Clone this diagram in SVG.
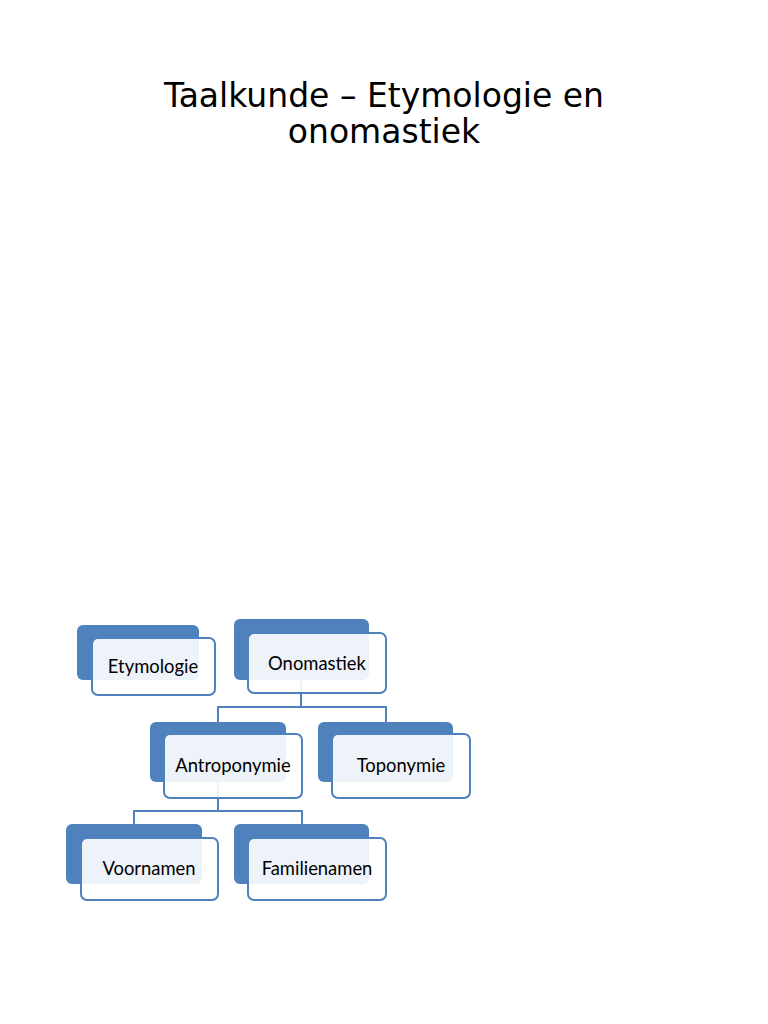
<svg xmlns="http://www.w3.org/2000/svg" width="768" height="1024" viewBox="0 0 768 1024">
<style>
.title{font-family:"DejaVu Sans",sans-serif;font-size:33px;fill:#000;text-anchor:middle}
.back{fill:#4F81BD}
.front{fill:#fff;fill-opacity:0.9;stroke:#4F81BD;stroke-width:2}
.lbl{font-family:Lato,"Liberation Sans",sans-serif;font-size:18.4px;fill:#000;text-anchor:middle}
.conn{fill:none;stroke:#4F81BD;stroke-width:2}
</style>
<rect width="768" height="1024" fill="#fff"/>
<text class="title" x="384" y="107">Taalkunde – Etymologie en</text>
<text class="title" x="384" y="143">onomastiek</text>
<g id="connectors">
<path class="conn" d="M301 680 V707 M218 722 V707 H386 V722"/>
<path class="conn" d="M218 782 V811 M134 824 V811 H302 V824"/>
</g>
<g id="etymologie">
<rect class="back" x="77" y="625" width="122" height="55" rx="6"/>
<rect class="front" x="92" y="638" width="123" height="57" rx="6"/>
<text class="lbl" x="153" y="673">Etymologie</text>
</g>
<g id="onomastiek">
<rect class="back" x="234" y="619" width="135" height="61" rx="6"/>
<rect class="front" x="248" y="633" width="138" height="60" rx="6"/>
<text class="lbl" x="317" y="670">Onomastiek</text>
</g>
<g id="antroponymie">
<rect class="back" x="150" y="722" width="136" height="60" rx="6"/>
<rect class="front" x="164" y="734" width="138" height="64" rx="6"/>
<text class="lbl" x="233" y="772">Antroponymie</text>
</g>
<g id="toponymie">
<rect class="back" x="318" y="722" width="135" height="60" rx="6"/>
<rect class="front" x="332" y="734" width="138" height="64" rx="6"/>
<text class="lbl" x="401" y="772">Toponymie</text>
</g>
<g id="voornamen">
<rect class="back" x="66" y="824" width="136" height="60" rx="6"/>
<rect class="front" x="81" y="838" width="137" height="62" rx="6"/>
<text class="lbl" x="149" y="875">Voornamen</text>
</g>
<g id="familienamen">
<rect class="back" x="234" y="824" width="135" height="60" rx="6"/>
<rect class="front" x="248" y="838" width="138" height="62" rx="6"/>
<text class="lbl" x="317" y="875">Familienamen</text>
</g>
</svg>
